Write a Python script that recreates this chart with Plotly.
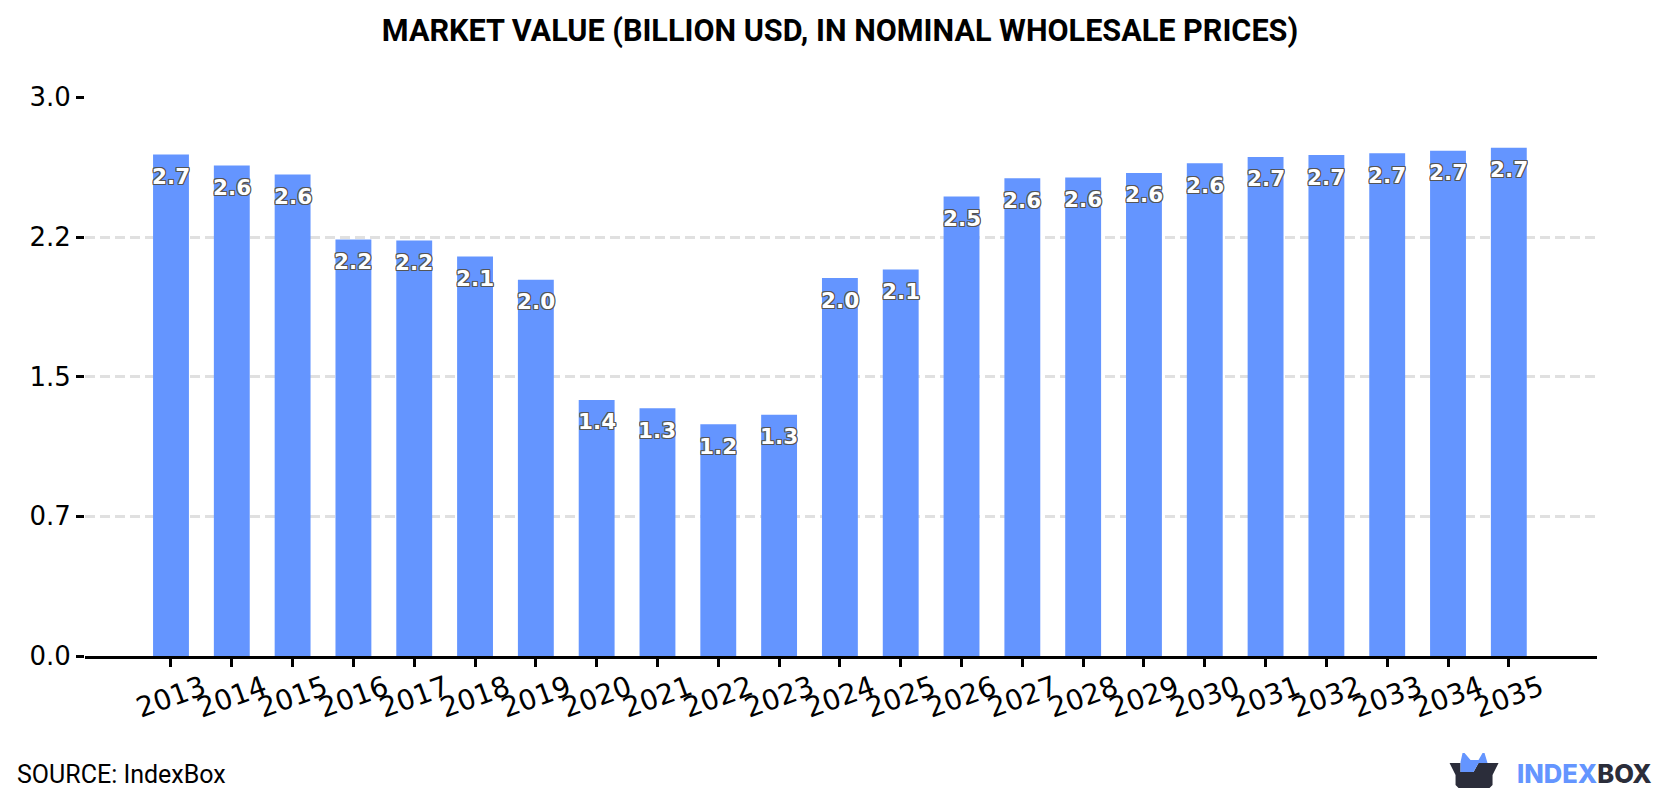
import plotly.graph_objects as go

# Market value series, billion USD
years = [str(y) for y in range(2013, 2036)]
values = [2.693, 2.634, 2.586, 2.237, 2.232, 2.146, 2.02, 1.375, 1.33, 1.244, 1.295,
          2.03, 2.076, 2.468, 2.566, 2.57, 2.594, 2.646, 2.68, 2.69, 2.70, 2.714, 2.73]
y_ticks = [0, 0.75, 1.5, 2.25, 3.0]
y_tick_labels = ["0.0", "0.7", "1.5", "2.2", "3.0"]

title = "MARKET VALUE (BILLION USD, IN NOMINAL WHOLESALE PRICES)"
source = "SOURCE: IndexBox"

BLUE = "#6495ff"
DARK = "#2b2d3a"
W, H = 1680, 800
L, R, T, B = 85, 1597.5, 96.7, 656


# Page pixels to paper coordinates, which run over the plot area
def px(x):
    return (x - L) / (R - L)


def py(y):
    return (B - y) / (B - T)


def path(points):
    return "M " + " L ".join(f"{px(x):.5f},{py(y):.5f}" for x, y in points) + " Z"


outline = ("1px 0 0 #555, -1px 0 0 #555, 0 1px 0 #555, 0 -1px 0 #555, "
           "1px 1px 0 #555, -1px -1px 0 #555, 1px -1px 0 #555, -1px 1px 0 #555")

fig = go.Figure(go.Bar(x=years, y=values, marker=dict(color=BLUE, line_width=0), width=0.59))

# Value labels sit just under each bar's top edge
for index, value in enumerate(values):
    fig.add_annotation(x=index, y=value, text=f"{value:.1f}", showarrow=False, yanchor="middle",
                       yshift=-22, font=dict(family="DejaVu Sans", size=21.5, color="white", weight="bold",
                                             shadow=outline))

# Brand mark in the lower right corner
brand = [
    dict(points=[(1450, 763), (1461, 763), (1461, 772), (1474, 772), (1479, 763), (1499, 763), (1493, 775),
                 (1493, 785), (1490, 788), (1459, 788), (1456, 785), (1456, 775)], color=DARK),
    dict(points=[(1461, 772), (1461, 762), (1463, 753), (1465, 753), (1471, 760), (1479, 760), (1483, 753),
                 (1485, 753), (1488, 763), (1479, 763), (1474, 772)], color=BLUE),
]
for item in brand:
    fig.add_shape(type="path", xref="paper", yref="paper", path=path(item["points"]),
                  fillcolor=item["color"], line_width=0, layer="above")

fig.add_annotation(xref="paper", yref="paper", x=px(1515), y=py(774), xanchor="left", yanchor="middle",
                   showarrow=False, text=f"<span style='color:{BLUE}'>INDEX</span>BOX",
                   font=dict(family="Inter", size=25.5, color=DARK, weight=800))
fig.add_annotation(xref="paper", yref="paper", x=px(15), y=py(775), xanchor="left", yanchor="middle",
                   showarrow=False, text=source, font=dict(family="Roboto", size=25, color="black"))

fig.update_layout(
    width=W, height=H, autosize=False, showlegend=False,
    paper_bgcolor="white", plot_bgcolor="white",
    margin=dict(l=L, r=W - R, t=T, b=H - B, pad=0),
    bargap=0.41,
    title=dict(text=f"<b>{title}</b>", x=0.5, xanchor="center", y=1 - 30 / H, yanchor="middle",
               font=dict(family="Roboto", size=30.6, color="black")),
    xaxis=dict(type="category", range=[-1.414, 23.45], tickangle=-20, ticks="outside", ticklen=8, tickwidth=3,
               tickcolor="black", showgrid=False, showline=True, linecolor="black", linewidth=3,
               ticklabelshift=32, ticklabelstandoff=-6, tickfont=dict(family="DejaVu Sans", size=28, color="black")),
    yaxis=dict(range=[0, 3.002], tickvals=y_ticks, ticktext=y_tick_labels, ticks="outside", ticklen=8, tickwidth=3,
               tickcolor="black", showline=False, zeroline=False, showgrid=True, gridcolor="#e0e0e0", gridwidth=2.5,
               griddash="10px,5px", tickfont=dict(family="DejaVu Sans", size=26, color="black")),
)

fig.write_html("out.html")
